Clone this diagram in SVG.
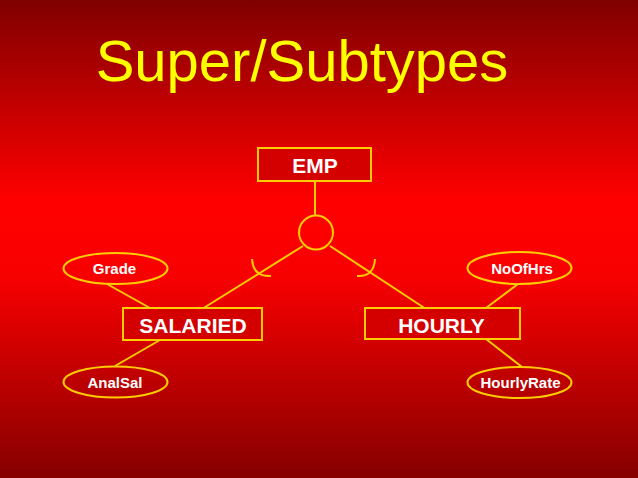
<svg xmlns="http://www.w3.org/2000/svg" width="638" height="478" viewBox="0 0 638 478">
<defs>
<linearGradient id="bg" x1="0" y1="0" x2="0" y2="1">
<stop offset="0" stop-color="#800000"/>
<stop offset="0.42" stop-color="#ff0000"/>
<stop offset="0.58" stop-color="#f80000"/>
<stop offset="1" stop-color="#850000"/>
</linearGradient>
</defs>
<style>
.ln{stroke:#ffcc00;stroke-width:2;fill:none}
.box{stroke:#ffcc00;stroke-width:2;fill:#d40000}
.ell{stroke:#ffcc00;stroke-width:2;fill:none}
.lbl{font-family:"Liberation Sans",Arial,sans-serif;font-weight:bold;fill:#ffffff;text-anchor:middle}
.big{font-size:21px}
.sm{font-size:15px}
</style>
<rect width="638" height="478" fill="url(#bg)"/>
<text x="302" y="81" font-family="Liberation Sans, Arial, sans-serif" font-size="58" fill="#ffff00" text-anchor="middle">Super/Subtypes</text>
<g id="connectors">
<line class="ln" x1="315" y1="181" x2="315" y2="216"/>
<line class="ln" x1="303" y1="246" x2="202" y2="309"/>
<line class="ln" x1="330" y1="246" x2="426" y2="309"/>
<path class="ln" d="M252,259 Q253,277 271,276"/>
<path class="ln" d="M375,259 Q374,277 357,276"/>
<line class="ln" x1="107" y1="284" x2="150" y2="308"/>
<line class="ln" x1="160" y1="340" x2="115" y2="366"/>
<line class="ln" x1="518" y1="284" x2="486" y2="308"/>
<line class="ln" x1="486" y1="339" x2="522" y2="367"/>
</g>
<g id="emp">
<rect class="box" x="258" y="148" width="113" height="33"/>
<text class="lbl big" x="315" y="173">EMP</text>
</g>
<g id="isa">
<circle class="ln" cx="316" cy="232.5" r="17"/>
</g>
<g id="salaried">
<rect class="box" x="123" y="308" width="139" height="32"/>
<text class="lbl big" x="193" y="333">SALARIED</text>
</g>
<g id="hourly">
<rect class="box" x="365" y="308" width="155" height="31"/>
<text class="lbl big" x="441.5" y="333">HOURLY</text>
</g>
<g id="grade">
<ellipse class="ell" cx="115.5" cy="268.5" rx="52" ry="15.5"/>
<text class="lbl sm" x="114.5" y="274">Grade</text>
</g>
<g id="analsal">
<ellipse class="ell" cx="115.5" cy="382" rx="52" ry="15.5"/>
<text class="lbl sm" x="115" y="387.5">AnalSal</text>
</g>
<g id="noofhrs">
<ellipse class="ell" cx="519.5" cy="268" rx="52" ry="16"/>
<text class="lbl sm" x="522" y="273.5">NoOfHrs</text>
</g>
<g id="hourlyrate">
<ellipse class="ell" cx="519.5" cy="382.5" rx="52" ry="15.5"/>
<text class="lbl sm" x="520.5" y="388">HourlyRate</text>
</g>
</svg>
